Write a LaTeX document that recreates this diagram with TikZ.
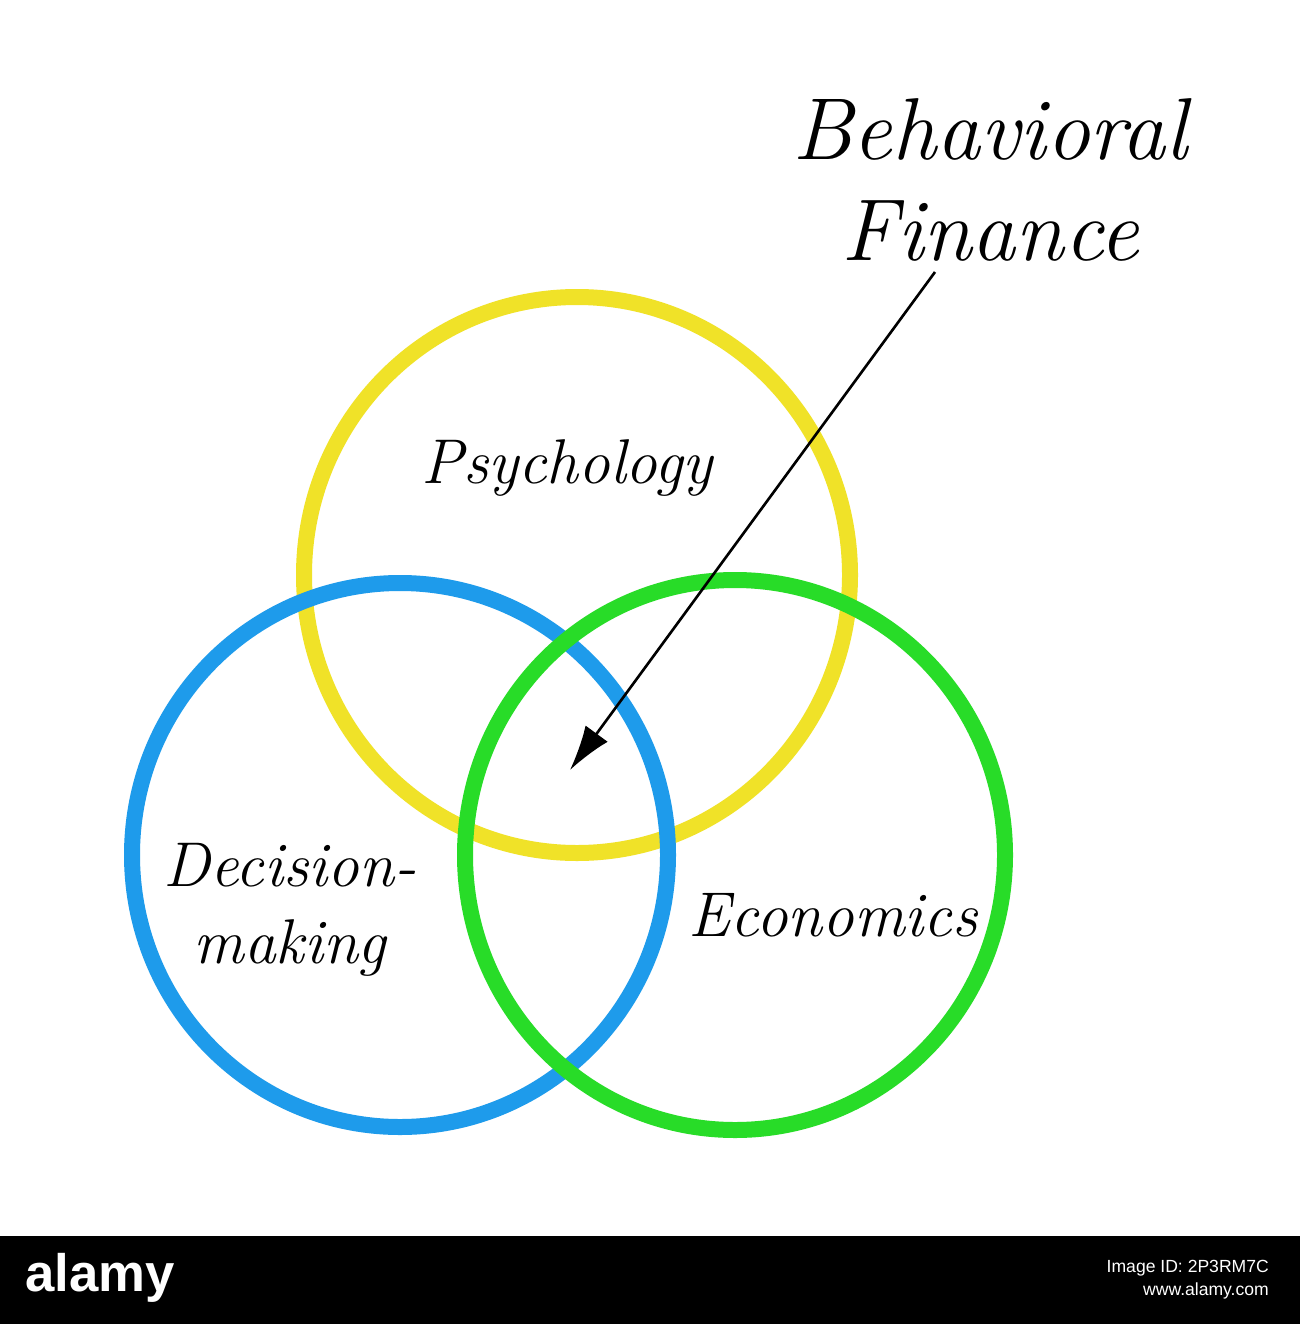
\documentclass[tikz,border=0pt]{standalone}
\usepackage{fontspec}
\newfontfamily\wmfont{Liberation Sans}
\usetikzlibrary{arrows.meta}
\definecolor{cy}{RGB}{240,226,40}
\definecolor{cb}{RGB}{30,155,235}
\definecolor{cg}{RGB}{40,220,40}
\tikzset{ring/.style={line width=0.32cm},
 lbl/.style={font=\fontsize{36}{44}\selectfont\itshape, align=center}}
\begin{document}
\begin{tikzpicture}[x=0.02cm,y=-0.02cm]
\useasboundingbox (0,0) rectangle (1300,1324);
\fill[white] (0,0) rectangle (1300,1324);
\draw[ring,cy] (577,575) ellipse (273 and 278);
\draw[ring,cb] (400,855) ellipse (268 and 272);
\draw[ring,cg] (735,855) ellipse (270 and 275);
\node[lbl,font=\fontsize{50}{58}\selectfont\itshape] (bf) at (990,180) {Behavioral\\Finance};
\coordinate (s) at (935,272);
\coordinate (t) at (570,770);
\draw[line width=1.5pt,-{Latex[length=0.9cm,width=0.55cm]}] (s) -- (t);
\node[lbl] (p) at (567,468) {Psychology};
\node[lbl] (d) at (290,910) {Decision-\\making};
\node[lbl] (e) at (833,915) {Economics};
\fill[black] (0,1236) rectangle (1300,1324);
\node[white,font=\fontsize{30}{32}\selectfont\wmfont\bfseries] (al) at (100,1278) {alamy};
\node[white,anchor=east,font=\fontsize{10}{13}\selectfont\wmfont, align=right] (id) at (1275,1280) {Image ID: 2P3RM7C\\www.alamy.com};
\end{tikzpicture}
\end{document}
